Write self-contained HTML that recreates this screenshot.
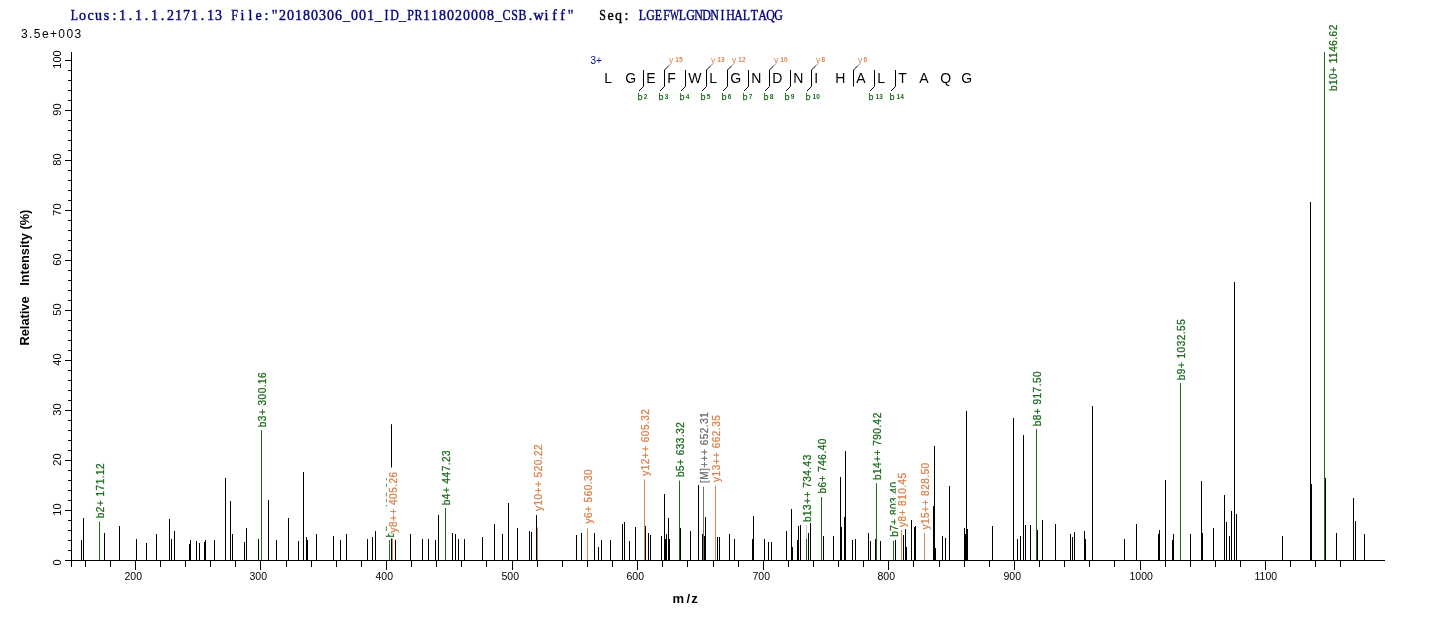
<!DOCTYPE html>
<html><head><meta charset="utf-8"><style>
html,body{margin:0;padding:0;background:#fff;overflow:hidden;}
svg{display:block;will-change:transform;}
text{font-family:"Liberation Sans",sans-serif;}
.mono{font-family:"Liberation Mono",monospace;}
.serif{font-family:"Liberation Serif",serif;}
</style></head><body>
<svg width="1436" height="620" viewBox="0 0 1436 620">
<rect width="1436" height="620" fill="#fff"/>
<rect x="81" y="540.0" width="1" height="20.0" fill="#000"/>
<rect x="83" y="518.0" width="1" height="42.0" fill="#000"/>
<rect x="104" y="533.0" width="1" height="27.0" fill="#000"/>
<rect x="119" y="526.0" width="1" height="34.0" fill="#000"/>
<rect x="136" y="539.0" width="1" height="21.0" fill="#000"/>
<rect x="146" y="543.0" width="1" height="17.0" fill="#000"/>
<rect x="156" y="534.0" width="1" height="26.0" fill="#000"/>
<rect x="169" y="519.0" width="1" height="41.0" fill="#000"/>
<rect x="171" y="539.0" width="1" height="21.0" fill="#000"/>
<rect x="174" y="531.0" width="1" height="29.0" fill="#000"/>
<rect x="189" y="544.0" width="1" height="16.0" fill="#000"/>
<rect x="190" y="540.0" width="1" height="20.0" fill="#000"/>
<rect x="196" y="541.0" width="1" height="19.0" fill="#000"/>
<rect x="199" y="543.0" width="1" height="17.0" fill="#000"/>
<rect x="204" y="542.0" width="1" height="18.0" fill="#000"/>
<rect x="205" y="540.0" width="1" height="20.0" fill="#000"/>
<rect x="214" y="540.0" width="1" height="20.0" fill="#000"/>
<rect x="225" y="478.0" width="1" height="82.0" fill="#000"/>
<rect x="230" y="501.0" width="1" height="59.0" fill="#000"/>
<rect x="232" y="534.0" width="1" height="26.0" fill="#000"/>
<rect x="244" y="542.0" width="1" height="18.0" fill="#000"/>
<rect x="246" y="528.0" width="1" height="32.0" fill="#000"/>
<rect x="258" y="539.0" width="1" height="21.0" fill="#000"/>
<rect x="268" y="500.0" width="1" height="60.0" fill="#000"/>
<rect x="276" y="540.0" width="1" height="20.0" fill="#000"/>
<rect x="288" y="518.0" width="1" height="42.0" fill="#000"/>
<rect x="298" y="541.0" width="1" height="19.0" fill="#000"/>
<rect x="303" y="472.0" width="1" height="88.0" fill="#000"/>
<rect x="306" y="537.0" width="1" height="23.0" fill="#000"/>
<rect x="307" y="540.0" width="1" height="20.0" fill="#000"/>
<rect x="316" y="534.0" width="1" height="26.0" fill="#000"/>
<rect x="333" y="536.0" width="1" height="24.0" fill="#000"/>
<rect x="340" y="540.0" width="1" height="20.0" fill="#000"/>
<rect x="346" y="534.0" width="1" height="26.0" fill="#000"/>
<rect x="367" y="539.0" width="1" height="21.0" fill="#000"/>
<rect x="372" y="537.0" width="1" height="23.0" fill="#000"/>
<rect x="375" y="531.0" width="1" height="29.0" fill="#000"/>
<rect x="391" y="424.2" width="1" height="135.8" fill="#000"/>
<rect x="395" y="540.0" width="1" height="20.0" fill="#000"/>
<rect x="410" y="534.0" width="1" height="26.0" fill="#000"/>
<rect x="422" y="539.0" width="1" height="21.0" fill="#000"/>
<rect x="428" y="539.0" width="1" height="21.0" fill="#000"/>
<rect x="435" y="540.0" width="1" height="20.0" fill="#000"/>
<rect x="438" y="515.0" width="1" height="45.0" fill="#000"/>
<rect x="452" y="533.0" width="1" height="27.0" fill="#000"/>
<rect x="455" y="534.0" width="1" height="26.0" fill="#000"/>
<rect x="458" y="539.0" width="1" height="21.0" fill="#000"/>
<rect x="464" y="539.0" width="1" height="21.0" fill="#000"/>
<rect x="482" y="537.0" width="1" height="23.0" fill="#000"/>
<rect x="494" y="524.0" width="1" height="36.0" fill="#000"/>
<rect x="502" y="534.0" width="1" height="26.0" fill="#000"/>
<rect x="508" y="503.0" width="1" height="57.0" fill="#000"/>
<rect x="517" y="528.0" width="1" height="32.0" fill="#000"/>
<rect x="529" y="531.0" width="1" height="29.0" fill="#000"/>
<rect x="531" y="532.0" width="1" height="28.0" fill="#000"/>
<rect x="536" y="515.0" width="1" height="45.0" fill="#000"/>
<rect x="576" y="535.0" width="1" height="25.0" fill="#000"/>
<rect x="581" y="533.0" width="1" height="27.0" fill="#000"/>
<rect x="594" y="533.0" width="1" height="27.0" fill="#000"/>
<rect x="598" y="547.0" width="1" height="13.0" fill="#000"/>
<rect x="601" y="540.0" width="1" height="20.0" fill="#000"/>
<rect x="610" y="540.0" width="1" height="20.0" fill="#000"/>
<rect x="622" y="524.0" width="1" height="36.0" fill="#000"/>
<rect x="624" y="522.0" width="1" height="38.0" fill="#000"/>
<rect x="629" y="541.0" width="1" height="19.0" fill="#000"/>
<rect x="635" y="527.0" width="1" height="33.0" fill="#000"/>
<rect x="645" y="526.0" width="1" height="34.0" fill="#000"/>
<rect x="648" y="533.0" width="1" height="27.0" fill="#000"/>
<rect x="650" y="535.0" width="1" height="25.0" fill="#000"/>
<rect x="661" y="536.0" width="1" height="24.0" fill="#000"/>
<rect x="664" y="494.0" width="1" height="66.0" fill="#000"/>
<rect x="665" y="539.0" width="1" height="21.0" fill="#000"/>
<rect x="666" y="534.0" width="1" height="26.0" fill="#000"/>
<rect x="668" y="518.0" width="1" height="42.0" fill="#000"/>
<rect x="669" y="539.0" width="1" height="21.0" fill="#000"/>
<rect x="680" y="528.0" width="1" height="32.0" fill="#000"/>
<rect x="690" y="531.0" width="1" height="29.0" fill="#000"/>
<rect x="698" y="485.0" width="1" height="75.0" fill="#000"/>
<rect x="702" y="534.0" width="1" height="26.0" fill="#000"/>
<rect x="704" y="536.0" width="1" height="24.0" fill="#000"/>
<rect x="705" y="517.0" width="1" height="43.0" fill="#000"/>
<rect x="717" y="537.0" width="1" height="23.0" fill="#000"/>
<rect x="719" y="537.0" width="1" height="23.0" fill="#000"/>
<rect x="729" y="534.0" width="1" height="26.0" fill="#000"/>
<rect x="734" y="539.0" width="1" height="21.0" fill="#000"/>
<rect x="752" y="539.0" width="1" height="21.0" fill="#000"/>
<rect x="753" y="516.0" width="1" height="44.0" fill="#000"/>
<rect x="764" y="539.0" width="1" height="21.0" fill="#000"/>
<rect x="768" y="542.0" width="1" height="18.0" fill="#000"/>
<rect x="771" y="542.0" width="1" height="18.0" fill="#000"/>
<rect x="786" y="531.0" width="1" height="29.0" fill="#000"/>
<rect x="791" y="509.0" width="1" height="51.0" fill="#000"/>
<rect x="792" y="547.0" width="1" height="13.0" fill="#000"/>
<rect x="797" y="540.0" width="1" height="20.0" fill="#000"/>
<rect x="798" y="526.0" width="1" height="34.0" fill="#000"/>
<rect x="800" y="525.0" width="1" height="35.0" fill="#000"/>
<rect x="808" y="533.0" width="1" height="27.0" fill="#000"/>
<rect x="810" y="523.0" width="1" height="37.0" fill="#000"/>
<rect x="823" y="536.0" width="1" height="24.0" fill="#000"/>
<rect x="833" y="536.0" width="1" height="24.0" fill="#000"/>
<rect x="840" y="477.0" width="1" height="83.0" fill="#000"/>
<rect x="841" y="527.0" width="1" height="33.0" fill="#000"/>
<rect x="844" y="517.0" width="1" height="43.0" fill="#000"/>
<rect x="845" y="451.0" width="1" height="109.0" fill="#000"/>
<rect x="852" y="540.0" width="1" height="20.0" fill="#000"/>
<rect x="855" y="539.0" width="1" height="21.0" fill="#000"/>
<rect x="868" y="533.0" width="1" height="27.0" fill="#000"/>
<rect x="870" y="541.0" width="1" height="19.0" fill="#000"/>
<rect x="875" y="539.0" width="1" height="21.0" fill="#000"/>
<rect x="880" y="541.0" width="1" height="19.0" fill="#000"/>
<rect x="895" y="540.0" width="1" height="20.0" fill="#000"/>
<rect x="903" y="535.0" width="1" height="25.0" fill="#000"/>
<rect x="905" y="529.0" width="1" height="31.0" fill="#000"/>
<rect x="906" y="547.0" width="1" height="13.0" fill="#000"/>
<rect x="911" y="520.0" width="1" height="40.0" fill="#000"/>
<rect x="914" y="527.0" width="1" height="33.0" fill="#000"/>
<rect x="915" y="526.0" width="1" height="34.0" fill="#000"/>
<rect x="933" y="506.0" width="1" height="54.0" fill="#000"/>
<rect x="934" y="446.0" width="1" height="114.0" fill="#000"/>
<rect x="935" y="548.0" width="1" height="12.0" fill="#000"/>
<rect x="942" y="536.0" width="1" height="24.0" fill="#000"/>
<rect x="945" y="538.0" width="1" height="22.0" fill="#000"/>
<rect x="949" y="486.0" width="1" height="74.0" fill="#000"/>
<rect x="964" y="528.0" width="1" height="32.0" fill="#000"/>
<rect x="965" y="534.0" width="1" height="26.0" fill="#000"/>
<rect x="966" y="411.0" width="1" height="149.0" fill="#000"/>
<rect x="967" y="529.0" width="1" height="31.0" fill="#000"/>
<rect x="992" y="526.0" width="1" height="34.0" fill="#000"/>
<rect x="1013" y="418.0" width="1" height="142.0" fill="#000"/>
<rect x="1017" y="539.0" width="1" height="21.0" fill="#000"/>
<rect x="1020" y="536.0" width="1" height="24.0" fill="#000"/>
<rect x="1023" y="435.0" width="1" height="125.0" fill="#000"/>
<rect x="1025" y="525.0" width="1" height="35.0" fill="#000"/>
<rect x="1030" y="525.0" width="1" height="35.0" fill="#000"/>
<rect x="1037" y="530.0" width="1" height="30.0" fill="#000"/>
<rect x="1042" y="520.0" width="1" height="40.0" fill="#000"/>
<rect x="1055" y="524.0" width="1" height="36.0" fill="#000"/>
<rect x="1070" y="534.0" width="1" height="26.0" fill="#000"/>
<rect x="1072" y="537.0" width="1" height="23.0" fill="#000"/>
<rect x="1074" y="532.0" width="1" height="28.0" fill="#000"/>
<rect x="1084" y="531.0" width="1" height="29.0" fill="#000"/>
<rect x="1085" y="539.0" width="1" height="21.0" fill="#000"/>
<rect x="1092" y="406.0" width="1" height="154.0" fill="#000"/>
<rect x="1124" y="539.0" width="1" height="21.0" fill="#000"/>
<rect x="1136" y="524.0" width="1" height="36.0" fill="#000"/>
<rect x="1158" y="534.0" width="1" height="26.0" fill="#000"/>
<rect x="1159" y="530.0" width="1" height="30.0" fill="#000"/>
<rect x="1165" y="480.0" width="1" height="80.0" fill="#000"/>
<rect x="1172" y="540.0" width="1" height="20.0" fill="#000"/>
<rect x="1173" y="534.0" width="1" height="26.0" fill="#000"/>
<rect x="1190" y="534.0" width="1" height="26.0" fill="#000"/>
<rect x="1201" y="481.0" width="1" height="79.0" fill="#000"/>
<rect x="1202" y="533.0" width="1" height="27.0" fill="#000"/>
<rect x="1213" y="528.0" width="1" height="32.0" fill="#000"/>
<rect x="1224" y="495.0" width="1" height="65.0" fill="#000"/>
<rect x="1226" y="522.0" width="1" height="38.0" fill="#000"/>
<rect x="1229" y="536.0" width="1" height="24.0" fill="#000"/>
<rect x="1231" y="511.0" width="1" height="49.0" fill="#000"/>
<rect x="1234" y="282.0" width="1" height="278.0" fill="#000"/>
<rect x="1236" y="514.0" width="1" height="46.0" fill="#000"/>
<rect x="1282" y="536.0" width="1" height="24.0" fill="#000"/>
<rect x="1310" y="202.0" width="1" height="358.0" fill="#000"/>
<rect x="1311" y="484.0" width="1" height="76.0" fill="#000"/>
<rect x="1325" y="478.0" width="1" height="82.0" fill="#000"/>
<rect x="1336" y="533.0" width="1" height="27.0" fill="#000"/>
<rect x="1353" y="498.0" width="1" height="62.0" fill="#000"/>
<rect x="1355" y="521.0" width="1" height="39.0" fill="#000"/>
<rect x="1364" y="534.0" width="1" height="26.0" fill="#000"/>
<rect x="99" y="521.5" width="1" height="38.5" fill="#1e6b1e"/>
<rect x="261" y="430.0" width="1" height="130.0" fill="#1e6b1e"/>
<rect x="389" y="540.0" width="1" height="20.0" fill="#1e6b1e"/>
<rect x="392" y="535.0" width="1" height="25.0" fill="#d8844f"/>
<rect x="445" y="508.1" width="1" height="51.9" fill="#1e6b1e"/>
<rect x="537" y="527.5" width="1" height="32.5" fill="#d8844f"/>
<rect x="587" y="528.4" width="1" height="31.6" fill="#d8844f"/>
<rect x="644" y="479.5" width="1" height="80.5" fill="#d8844f"/>
<rect x="679" y="480.6" width="1" height="79.4" fill="#1e6b1e"/>
<rect x="703" y="486.7" width="1" height="73.3" fill="#707070"/>
<rect x="715" y="485.5" width="1" height="74.5" fill="#d8844f"/>
<rect x="806" y="539.0" width="1" height="21.0" fill="#1e6b1e"/>
<rect x="821" y="497.0" width="1" height="63.0" fill="#1e6b1e"/>
<rect x="876" y="483.2" width="1" height="76.8" fill="#1e6b1e"/>
<rect x="893" y="540.8" width="1" height="19.2" fill="#1e6b1e"/>
<rect x="901" y="530.0" width="1" height="30.0" fill="#d8844f"/>
<rect x="924" y="533.0" width="1" height="27.0" fill="#d8844f"/>
<rect x="1036" y="429.0" width="1" height="131.0" fill="#1e6b1e"/>
<rect x="1180" y="383.0" width="1" height="177.0" fill="#1e6b1e"/>
<g transform="translate(103.7,518.2) rotate(-90)"><rect x="-1" y="-10" width="60" height="12" fill="#fff"/><text x="0" y="0" fill="#1e6b1e" font-size="10" letter-spacing="0.5" stroke="#1e6b1e" stroke-width="0.3">b2+ 171.12</text></g>
<g transform="translate(265.7,427.2) rotate(-90)"><rect x="-1" y="-10" width="60" height="12" fill="#fff"/><text x="0" y="0" fill="#1e6b1e" font-size="10" letter-spacing="0.5" stroke="#1e6b1e" stroke-width="0.3">b3+ 300.16</text></g>
<g transform="translate(393.7,537.5) rotate(-90)"><rect x="-1" y="-10" width="66" height="12" fill="#fff"/><text x="0" y="0" fill="#1e6b1e" font-size="10" letter-spacing="0.5" stroke="#1e6b1e" stroke-width="0.3">b7++ 403.31</text></g>
<g transform="translate(396.7,532.5) rotate(-90)"><rect x="-1" y="-10" width="66" height="12" fill="#fff"/><text x="0" y="0" fill="#d8844f" font-size="10" letter-spacing="0.5" stroke="#d8844f" stroke-width="0.3">y8++ 405.26</text></g>
<g transform="translate(449.7,505.2) rotate(-90)"><rect x="-1" y="-10" width="60" height="12" fill="#fff"/><text x="0" y="0" fill="#1e6b1e" font-size="10" letter-spacing="0.5" stroke="#1e6b1e" stroke-width="0.3">b4+ 447.23</text></g>
<g transform="translate(541.7,511.0) rotate(-90)"><rect x="-1" y="-10" width="72" height="12" fill="#fff"/><text x="0" y="0" fill="#d8844f" font-size="10" letter-spacing="0.5" stroke="#d8844f" stroke-width="0.3">y10++ 520.22</text></g>
<g transform="translate(591.7,523.6) rotate(-90)"><rect x="-1" y="-10" width="60" height="12" fill="#fff"/><text x="0" y="0" fill="#d8844f" font-size="10" letter-spacing="0.5" stroke="#d8844f" stroke-width="0.3">y6+ 560.30</text></g>
<g transform="translate(648.7,475.8) rotate(-90)"><rect x="-1" y="-10" width="72" height="12" fill="#fff"/><text x="0" y="0" fill="#d8844f" font-size="10" letter-spacing="0.5" stroke="#d8844f" stroke-width="0.3">y12++ 605.32</text></g>
<g transform="translate(683.7,477.0) rotate(-90)"><rect x="-1" y="-10" width="60" height="12" fill="#fff"/><text x="0" y="0" fill="#1e6b1e" font-size="10" letter-spacing="0.5" stroke="#1e6b1e" stroke-width="0.3">b5+ 633.32</text></g>
<g transform="translate(707.7,483.0) rotate(-90)"><rect x="-1" y="-10" width="78" height="12" fill="#fff"/><text x="0" y="0" fill="#707070" font-size="10" letter-spacing="0.5" stroke="#707070" stroke-width="0.3">[M]+++ 652.31</text></g>
<g transform="translate(719.7,481.9) rotate(-90)"><rect x="-1" y="-10" width="72" height="12" fill="#fff"/><text x="0" y="0" fill="#d8844f" font-size="10" letter-spacing="0.5" stroke="#d8844f" stroke-width="0.3">y13++ 662.35</text></g>
<g transform="translate(810.7,522.0) rotate(-90)"><rect x="-1" y="-10" width="72" height="12" fill="#fff"/><text x="0" y="0" fill="#1e6b1e" font-size="10" letter-spacing="0.5" stroke="#1e6b1e" stroke-width="0.3">b13++ 734.43</text></g>
<g transform="translate(825.7,493.5) rotate(-90)"><rect x="-1" y="-10" width="60" height="12" fill="#fff"/><text x="0" y="0" fill="#1e6b1e" font-size="10" letter-spacing="0.5" stroke="#1e6b1e" stroke-width="0.3">b6+ 746.40</text></g>
<g transform="translate(880.7,480.0) rotate(-90)"><rect x="-1" y="-10" width="72" height="12" fill="#fff"/><text x="0" y="0" fill="#1e6b1e" font-size="10" letter-spacing="0.5" stroke="#1e6b1e" stroke-width="0.3">b14++ 790.42</text></g>
<g transform="translate(897.7,536.8) rotate(-90)"><rect x="-1" y="-10" width="60" height="12" fill="#fff"/><text x="0" y="0" fill="#1e6b1e" font-size="10" letter-spacing="0.5" stroke="#1e6b1e" stroke-width="0.3">b7+ 803.40</text></g>
<g transform="translate(905.7,527.1) rotate(-90)"><rect x="-1" y="-10" width="60" height="12" fill="#fff"/><text x="0" y="0" fill="#d8844f" font-size="10" letter-spacing="0.5" stroke="#d8844f" stroke-width="0.3">y8+ 810.45</text></g>
<g transform="translate(928.7,529.5) rotate(-90)"><rect x="-1" y="-10" width="72" height="12" fill="#fff"/><text x="0" y="0" fill="#d8844f" font-size="10" letter-spacing="0.5" stroke="#d8844f" stroke-width="0.3">y15++ 828.50</text></g>
<g transform="translate(1040.7,426.3) rotate(-90)"><rect x="-1" y="-10" width="60" height="12" fill="#fff"/><text x="0" y="0" fill="#1e6b1e" font-size="10" letter-spacing="0.5" stroke="#1e6b1e" stroke-width="0.3">b8+ 917.50</text></g>
<g transform="translate(1184.7,380.2) rotate(-90)"><rect x="-1" y="-10" width="66" height="12" fill="#fff"/><text x="0" y="0" fill="#1e6b1e" font-size="10" letter-spacing="0.5" stroke="#1e6b1e" stroke-width="0.3">b9+ 1032.55</text></g>
<rect x="806" y="525" width="1" height="14" fill="#ccc"/>
<rect x="1324" y="52.0" width="1" height="508.0" fill="#1e6b1e"/>
<g transform="translate(1336.5,91) rotate(-90)"><text x="0" y="0" fill="#1e6b1e" font-size="10" letter-spacing="0.5" stroke="#1e6b1e" stroke-width="0.3">b10+ 1146.62</text></g>
<rect x="71" y="52" width="1" height="515" fill="#000"/>
<rect x="65" y="560" width="1320" height="1" fill="#000"/>
<rect x="65" y="560" width="6" height="1" fill="#000"/>
<rect x="68" y="550" width="3" height="1" fill="#000"/>
<rect x="68" y="540" width="3" height="1" fill="#000"/>
<rect x="68" y="530" width="3" height="1" fill="#000"/>
<rect x="68" y="520" width="3" height="1" fill="#000"/>
<rect x="65" y="510" width="6" height="1" fill="#000"/>
<rect x="68" y="500" width="3" height="1" fill="#000"/>
<rect x="68" y="490" width="3" height="1" fill="#000"/>
<rect x="68" y="480" width="3" height="1" fill="#000"/>
<rect x="68" y="470" width="3" height="1" fill="#000"/>
<rect x="65" y="460" width="6" height="1" fill="#000"/>
<rect x="68" y="450" width="3" height="1" fill="#000"/>
<rect x="68" y="440" width="3" height="1" fill="#000"/>
<rect x="68" y="430" width="3" height="1" fill="#000"/>
<rect x="68" y="420" width="3" height="1" fill="#000"/>
<rect x="65" y="410" width="6" height="1" fill="#000"/>
<rect x="68" y="400" width="3" height="1" fill="#000"/>
<rect x="68" y="390" width="3" height="1" fill="#000"/>
<rect x="68" y="380" width="3" height="1" fill="#000"/>
<rect x="68" y="370" width="3" height="1" fill="#000"/>
<rect x="65" y="360" width="6" height="1" fill="#000"/>
<rect x="68" y="350" width="3" height="1" fill="#000"/>
<rect x="68" y="340" width="3" height="1" fill="#000"/>
<rect x="68" y="330" width="3" height="1" fill="#000"/>
<rect x="68" y="320" width="3" height="1" fill="#000"/>
<rect x="65" y="310" width="6" height="1" fill="#000"/>
<rect x="68" y="300" width="3" height="1" fill="#000"/>
<rect x="68" y="290" width="3" height="1" fill="#000"/>
<rect x="68" y="280" width="3" height="1" fill="#000"/>
<rect x="68" y="270" width="3" height="1" fill="#000"/>
<rect x="65" y="260" width="6" height="1" fill="#000"/>
<rect x="68" y="250" width="3" height="1" fill="#000"/>
<rect x="68" y="240" width="3" height="1" fill="#000"/>
<rect x="68" y="230" width="3" height="1" fill="#000"/>
<rect x="68" y="220" width="3" height="1" fill="#000"/>
<rect x="65" y="210" width="6" height="1" fill="#000"/>
<rect x="68" y="200" width="3" height="1" fill="#000"/>
<rect x="68" y="190" width="3" height="1" fill="#000"/>
<rect x="68" y="180" width="3" height="1" fill="#000"/>
<rect x="68" y="170" width="3" height="1" fill="#000"/>
<rect x="65" y="160" width="6" height="1" fill="#000"/>
<rect x="68" y="150" width="3" height="1" fill="#000"/>
<rect x="68" y="140" width="3" height="1" fill="#000"/>
<rect x="68" y="130" width="3" height="1" fill="#000"/>
<rect x="68" y="120" width="3" height="1" fill="#000"/>
<rect x="65" y="110" width="6" height="1" fill="#000"/>
<rect x="68" y="100" width="3" height="1" fill="#000"/>
<rect x="68" y="90" width="3" height="1" fill="#000"/>
<rect x="68" y="80" width="3" height="1" fill="#000"/>
<rect x="68" y="70" width="3" height="1" fill="#000"/>
<rect x="65" y="60" width="6" height="1" fill="#000"/>
<g transform="translate(61,562.5) rotate(-90)"><text x="0" y="0" text-anchor="middle" font-size="11">0</text></g>
<g transform="translate(61,509.5) rotate(-90)"><text x="0" y="0" text-anchor="middle" font-size="11">10</text></g>
<g transform="translate(61,459.5) rotate(-90)"><text x="0" y="0" text-anchor="middle" font-size="11">20</text></g>
<g transform="translate(61,409.5) rotate(-90)"><text x="0" y="0" text-anchor="middle" font-size="11">30</text></g>
<g transform="translate(61,359.5) rotate(-90)"><text x="0" y="0" text-anchor="middle" font-size="11">40</text></g>
<g transform="translate(61,309.5) rotate(-90)"><text x="0" y="0" text-anchor="middle" font-size="11">50</text></g>
<g transform="translate(61,259.5) rotate(-90)"><text x="0" y="0" text-anchor="middle" font-size="11">60</text></g>
<g transform="translate(61,209.5) rotate(-90)"><text x="0" y="0" text-anchor="middle" font-size="11">70</text></g>
<g transform="translate(61,159.5) rotate(-90)"><text x="0" y="0" text-anchor="middle" font-size="11">80</text></g>
<g transform="translate(61,109.5) rotate(-90)"><text x="0" y="0" text-anchor="middle" font-size="11">90</text></g>
<g transform="translate(61,59.5) rotate(-90)"><text x="0" y="0" text-anchor="middle" font-size="11">100</text></g>
<rect x="85" y="560" width="1" height="7" fill="#000"/>
<rect x="110" y="560" width="1" height="7" fill="#000"/>
<rect x="135" y="560" width="1" height="10" fill="#000"/>
<text x="124.5" y="580" font-size="10.5">200</text>
<rect x="160" y="560" width="1" height="7" fill="#000"/>
<rect x="185" y="560" width="1" height="7" fill="#000"/>
<rect x="210" y="560" width="1" height="7" fill="#000"/>
<rect x="235" y="560" width="1" height="7" fill="#000"/>
<rect x="260" y="560" width="1" height="10" fill="#000"/>
<text x="249.5" y="580" font-size="10.5">300</text>
<rect x="286" y="560" width="1" height="7" fill="#000"/>
<rect x="311" y="560" width="1" height="7" fill="#000"/>
<rect x="336" y="560" width="1" height="7" fill="#000"/>
<rect x="361" y="560" width="1" height="7" fill="#000"/>
<rect x="386" y="560" width="1" height="10" fill="#000"/>
<text x="375.5" y="580" font-size="10.5">400</text>
<rect x="411" y="560" width="1" height="7" fill="#000"/>
<rect x="436" y="560" width="1" height="7" fill="#000"/>
<rect x="461" y="560" width="1" height="7" fill="#000"/>
<rect x="486" y="560" width="1" height="7" fill="#000"/>
<rect x="512" y="560" width="1" height="10" fill="#000"/>
<text x="501.5" y="580" font-size="10.5">500</text>
<rect x="537" y="560" width="1" height="7" fill="#000"/>
<rect x="562" y="560" width="1" height="7" fill="#000"/>
<rect x="587" y="560" width="1" height="7" fill="#000"/>
<rect x="612" y="560" width="1" height="7" fill="#000"/>
<rect x="637" y="560" width="1" height="10" fill="#000"/>
<text x="626.5" y="580" font-size="10.5">600</text>
<rect x="662" y="560" width="1" height="7" fill="#000"/>
<rect x="687" y="560" width="1" height="7" fill="#000"/>
<rect x="713" y="560" width="1" height="7" fill="#000"/>
<rect x="738" y="560" width="1" height="7" fill="#000"/>
<rect x="763" y="560" width="1" height="10" fill="#000"/>
<text x="752.5" y="580" font-size="10.5">700</text>
<rect x="788" y="560" width="1" height="7" fill="#000"/>
<rect x="813" y="560" width="1" height="7" fill="#000"/>
<rect x="838" y="560" width="1" height="7" fill="#000"/>
<rect x="863" y="560" width="1" height="7" fill="#000"/>
<rect x="888" y="560" width="1" height="10" fill="#000"/>
<text x="877.5" y="580" font-size="10.5">800</text>
<rect x="913" y="560" width="1" height="7" fill="#000"/>
<rect x="939" y="560" width="1" height="7" fill="#000"/>
<rect x="964" y="560" width="1" height="7" fill="#000"/>
<rect x="989" y="560" width="1" height="7" fill="#000"/>
<rect x="1014" y="560" width="1" height="10" fill="#000"/>
<text x="1003.5" y="580" font-size="10.5">900</text>
<rect x="1039" y="560" width="1" height="7" fill="#000"/>
<rect x="1064" y="560" width="1" height="7" fill="#000"/>
<rect x="1089" y="560" width="1" height="7" fill="#000"/>
<rect x="1114" y="560" width="1" height="7" fill="#000"/>
<rect x="1140" y="560" width="1" height="10" fill="#000"/>
<text x="1129.5" y="580" font-size="10.5">1000</text>
<rect x="1165" y="560" width="1" height="7" fill="#000"/>
<rect x="1190" y="560" width="1" height="7" fill="#000"/>
<rect x="1215" y="560" width="1" height="7" fill="#000"/>
<rect x="1240" y="560" width="1" height="7" fill="#000"/>
<rect x="1265" y="560" width="1" height="10" fill="#000"/>
<text x="1254.5" y="580" font-size="10.5">1100</text>
<rect x="1290" y="560" width="1" height="7" fill="#000"/>
<rect x="1315" y="560" width="1" height="7" fill="#000"/>
<rect x="1340" y="560" width="1" height="7" fill="#000"/>
<text x="672.5" y="603" font-size="13" font-weight="bold">m<tspan dx="2.5">/</tspan><tspan dx="1">z</tspan></text>
<g transform="translate(28.8,345.5) rotate(-90)"><text x="0" y="0" font-size="12.8" font-weight="bold">Relative&#160;&#160;&#160;Intensity (%)</text></g>
<text x="21" y="37.6" font-size="12" letter-spacing="1.4">3.5e+003</text>
<text x="0" y="0" text-anchor="middle" class="serif" font-size="14" fill="#000080" stroke="#000080" stroke-width="0.4" transform="translate(74.5,20) scale(0.85,1)">L</text><text x="82.5" y="20" text-anchor="middle" class="serif" font-size="14" fill="#000080" stroke="#000080" stroke-width="0.4">o</text><text x="90.5" y="20" text-anchor="middle" class="serif" font-size="14" fill="#000080" stroke="#000080" stroke-width="0.4">c</text><text x="98.5" y="20" text-anchor="middle" class="serif" font-size="14" fill="#000080" stroke="#000080" stroke-width="0.4">u</text><text x="106.5" y="20" text-anchor="middle" class="serif" font-size="14" fill="#000080" stroke="#000080" stroke-width="0.4">s</text><text x="114.5" y="20" text-anchor="middle" class="serif" font-size="14" fill="#000080" stroke="#000080" stroke-width="0.4">:</text><text x="122.5" y="20" text-anchor="middle" class="serif" font-size="14" fill="#000080" stroke="#000080" stroke-width="0.4">1</text><text x="130.5" y="20" text-anchor="middle" class="serif" font-size="14" fill="#000080" stroke="#000080" stroke-width="0.4">.</text><text x="138.5" y="20" text-anchor="middle" class="serif" font-size="14" fill="#000080" stroke="#000080" stroke-width="0.4">1</text><text x="146.5" y="20" text-anchor="middle" class="serif" font-size="14" fill="#000080" stroke="#000080" stroke-width="0.4">.</text><text x="154.5" y="20" text-anchor="middle" class="serif" font-size="14" fill="#000080" stroke="#000080" stroke-width="0.4">1</text><text x="162.5" y="20" text-anchor="middle" class="serif" font-size="14" fill="#000080" stroke="#000080" stroke-width="0.4">.</text><text x="170.5" y="20" text-anchor="middle" class="serif" font-size="14" fill="#000080" stroke="#000080" stroke-width="0.4">2</text><text x="178.5" y="20" text-anchor="middle" class="serif" font-size="14" fill="#000080" stroke="#000080" stroke-width="0.4">1</text><text x="186.5" y="20" text-anchor="middle" class="serif" font-size="14" fill="#000080" stroke="#000080" stroke-width="0.4">7</text><text x="194.5" y="20" text-anchor="middle" class="serif" font-size="14" fill="#000080" stroke="#000080" stroke-width="0.4">1</text><text x="202.5" y="20" text-anchor="middle" class="serif" font-size="14" fill="#000080" stroke="#000080" stroke-width="0.4">.</text><text x="210.5" y="20" text-anchor="middle" class="serif" font-size="14" fill="#000080" stroke="#000080" stroke-width="0.4">1</text><text x="218.5" y="20" text-anchor="middle" class="serif" font-size="14" fill="#000080" stroke="#000080" stroke-width="0.4">3</text><text x="0" y="0" text-anchor="middle" class="serif" font-size="14" fill="#000080" stroke="#000080" stroke-width="0.4" transform="translate(234.5,20) scale(0.85,1)">F</text><text x="242.5" y="20" text-anchor="middle" class="serif" font-size="14" fill="#000080" stroke="#000080" stroke-width="0.4">i</text><text x="250.5" y="20" text-anchor="middle" class="serif" font-size="14" fill="#000080" stroke="#000080" stroke-width="0.4">l</text><text x="258.5" y="20" text-anchor="middle" class="serif" font-size="14" fill="#000080" stroke="#000080" stroke-width="0.4">e</text><text x="266.5" y="20" text-anchor="middle" class="serif" font-size="14" fill="#000080" stroke="#000080" stroke-width="0.4">:</text><text x="274.5" y="20" text-anchor="middle" class="serif" font-size="14" fill="#000080" stroke="#000080" stroke-width="0.4">&quot;</text><text x="282.5" y="20" text-anchor="middle" class="serif" font-size="14" fill="#000080" stroke="#000080" stroke-width="0.4">2</text><text x="290.5" y="20" text-anchor="middle" class="serif" font-size="14" fill="#000080" stroke="#000080" stroke-width="0.4">0</text><text x="298.5" y="20" text-anchor="middle" class="serif" font-size="14" fill="#000080" stroke="#000080" stroke-width="0.4">1</text><text x="306.5" y="20" text-anchor="middle" class="serif" font-size="14" fill="#000080" stroke="#000080" stroke-width="0.4">8</text><text x="314.5" y="20" text-anchor="middle" class="serif" font-size="14" fill="#000080" stroke="#000080" stroke-width="0.4">0</text><text x="322.5" y="20" text-anchor="middle" class="serif" font-size="14" fill="#000080" stroke="#000080" stroke-width="0.4">3</text><text x="330.5" y="20" text-anchor="middle" class="serif" font-size="14" fill="#000080" stroke="#000080" stroke-width="0.4">0</text><text x="338.5" y="20" text-anchor="middle" class="serif" font-size="14" fill="#000080" stroke="#000080" stroke-width="0.4">6</text><text x="346.5" y="20" text-anchor="middle" class="serif" font-size="14" fill="#000080" stroke="#000080" stroke-width="0.4">_</text><text x="354.5" y="20" text-anchor="middle" class="serif" font-size="14" fill="#000080" stroke="#000080" stroke-width="0.4">0</text><text x="362.5" y="20" text-anchor="middle" class="serif" font-size="14" fill="#000080" stroke="#000080" stroke-width="0.4">0</text><text x="370.5" y="20" text-anchor="middle" class="serif" font-size="14" fill="#000080" stroke="#000080" stroke-width="0.4">1</text><text x="378.5" y="20" text-anchor="middle" class="serif" font-size="14" fill="#000080" stroke="#000080" stroke-width="0.4">_</text><text x="0" y="0" text-anchor="middle" class="serif" font-size="14" fill="#000080" stroke="#000080" stroke-width="0.4" transform="translate(386.5,20) scale(0.85,1)">I</text><text x="0" y="0" text-anchor="middle" class="serif" font-size="14" fill="#000080" stroke="#000080" stroke-width="0.4" transform="translate(394.5,20) scale(0.85,1)">D</text><text x="402.5" y="20" text-anchor="middle" class="serif" font-size="14" fill="#000080" stroke="#000080" stroke-width="0.4">_</text><text x="0" y="0" text-anchor="middle" class="serif" font-size="14" fill="#000080" stroke="#000080" stroke-width="0.4" transform="translate(410.5,20) scale(0.85,1)">P</text><text x="0" y="0" text-anchor="middle" class="serif" font-size="14" fill="#000080" stroke="#000080" stroke-width="0.4" transform="translate(418.5,20) scale(0.85,1)">R</text><text x="426.5" y="20" text-anchor="middle" class="serif" font-size="14" fill="#000080" stroke="#000080" stroke-width="0.4">1</text><text x="434.5" y="20" text-anchor="middle" class="serif" font-size="14" fill="#000080" stroke="#000080" stroke-width="0.4">1</text><text x="442.5" y="20" text-anchor="middle" class="serif" font-size="14" fill="#000080" stroke="#000080" stroke-width="0.4">8</text><text x="450.5" y="20" text-anchor="middle" class="serif" font-size="14" fill="#000080" stroke="#000080" stroke-width="0.4">0</text><text x="458.5" y="20" text-anchor="middle" class="serif" font-size="14" fill="#000080" stroke="#000080" stroke-width="0.4">2</text><text x="466.5" y="20" text-anchor="middle" class="serif" font-size="14" fill="#000080" stroke="#000080" stroke-width="0.4">0</text><text x="474.5" y="20" text-anchor="middle" class="serif" font-size="14" fill="#000080" stroke="#000080" stroke-width="0.4">0</text><text x="482.5" y="20" text-anchor="middle" class="serif" font-size="14" fill="#000080" stroke="#000080" stroke-width="0.4">0</text><text x="490.5" y="20" text-anchor="middle" class="serif" font-size="14" fill="#000080" stroke="#000080" stroke-width="0.4">8</text><text x="498.5" y="20" text-anchor="middle" class="serif" font-size="14" fill="#000080" stroke="#000080" stroke-width="0.4">_</text><text x="0" y="0" text-anchor="middle" class="serif" font-size="14" fill="#000080" stroke="#000080" stroke-width="0.4" transform="translate(506.5,20) scale(0.85,1)">C</text><text x="0" y="0" text-anchor="middle" class="serif" font-size="14" fill="#000080" stroke="#000080" stroke-width="0.4" transform="translate(514.5,20) scale(0.85,1)">S</text><text x="0" y="0" text-anchor="middle" class="serif" font-size="14" fill="#000080" stroke="#000080" stroke-width="0.4" transform="translate(522.5,20) scale(0.85,1)">B</text><text x="530.5" y="20" text-anchor="middle" class="serif" font-size="14" fill="#000080" stroke="#000080" stroke-width="0.4">.</text><text x="538.5" y="20" text-anchor="middle" class="serif" font-size="14" fill="#000080" stroke="#000080" stroke-width="0.4">w</text><text x="546.5" y="20" text-anchor="middle" class="serif" font-size="14" fill="#000080" stroke="#000080" stroke-width="0.4">i</text><text x="554.5" y="20" text-anchor="middle" class="serif" font-size="14" fill="#000080" stroke="#000080" stroke-width="0.4">f</text><text x="562.5" y="20" text-anchor="middle" class="serif" font-size="14" fill="#000080" stroke="#000080" stroke-width="0.4">f</text><text x="570.5" y="20" text-anchor="middle" class="serif" font-size="14" fill="#000080" stroke="#000080" stroke-width="0.4">&quot;</text><text x="0" y="0" text-anchor="middle" class="serif" font-size="14" fill="#000" stroke="#000" stroke-width="0.4" transform="translate(602.5,20) scale(0.85,1)">S</text><text x="610.5" y="20" text-anchor="middle" class="serif" font-size="14" fill="#000" stroke="#000" stroke-width="0.4">e</text><text x="618.5" y="20" text-anchor="middle" class="serif" font-size="14" fill="#000" stroke="#000" stroke-width="0.4">q</text><text x="626.5" y="20" text-anchor="middle" class="serif" font-size="14" fill="#000" stroke="#000" stroke-width="0.4">:</text><text x="0" y="0" text-anchor="middle" class="serif" font-size="14" fill="#000080" stroke="#000080" stroke-width="0.4" transform="translate(642.5,20) scale(0.85,1)">L</text><text x="0" y="0" text-anchor="middle" class="serif" font-size="14" fill="#000080" stroke="#000080" stroke-width="0.4" transform="translate(650.5,20) scale(0.85,1)">G</text><text x="0" y="0" text-anchor="middle" class="serif" font-size="14" fill="#000080" stroke="#000080" stroke-width="0.4" transform="translate(658.5,20) scale(0.85,1)">E</text><text x="0" y="0" text-anchor="middle" class="serif" font-size="14" fill="#000080" stroke="#000080" stroke-width="0.4" transform="translate(666.5,20) scale(0.85,1)">F</text><text x="0" y="0" text-anchor="middle" class="serif" font-size="14" fill="#000080" stroke="#000080" stroke-width="0.4" transform="translate(674.5,20) scale(0.68,1)">W</text><text x="0" y="0" text-anchor="middle" class="serif" font-size="14" fill="#000080" stroke="#000080" stroke-width="0.4" transform="translate(682.5,20) scale(0.85,1)">L</text><text x="0" y="0" text-anchor="middle" class="serif" font-size="14" fill="#000080" stroke="#000080" stroke-width="0.4" transform="translate(690.5,20) scale(0.85,1)">G</text><text x="0" y="0" text-anchor="middle" class="serif" font-size="14" fill="#000080" stroke="#000080" stroke-width="0.4" transform="translate(698.5,20) scale(0.85,1)">N</text><text x="0" y="0" text-anchor="middle" class="serif" font-size="14" fill="#000080" stroke="#000080" stroke-width="0.4" transform="translate(706.5,20) scale(0.85,1)">D</text><text x="0" y="0" text-anchor="middle" class="serif" font-size="14" fill="#000080" stroke="#000080" stroke-width="0.4" transform="translate(714.5,20) scale(0.85,1)">N</text><text x="0" y="0" text-anchor="middle" class="serif" font-size="14" fill="#000080" stroke="#000080" stroke-width="0.4" transform="translate(722.5,20) scale(0.85,1)">I</text><text x="0" y="0" text-anchor="middle" class="serif" font-size="14" fill="#000080" stroke="#000080" stroke-width="0.4" transform="translate(730.5,20) scale(0.85,1)">H</text><text x="0" y="0" text-anchor="middle" class="serif" font-size="14" fill="#000080" stroke="#000080" stroke-width="0.4" transform="translate(738.5,20) scale(0.85,1)">A</text><text x="0" y="0" text-anchor="middle" class="serif" font-size="14" fill="#000080" stroke="#000080" stroke-width="0.4" transform="translate(746.5,20) scale(0.85,1)">L</text><text x="0" y="0" text-anchor="middle" class="serif" font-size="14" fill="#000080" stroke="#000080" stroke-width="0.4" transform="translate(754.5,20) scale(0.85,1)">T</text><text x="0" y="0" text-anchor="middle" class="serif" font-size="14" fill="#000080" stroke="#000080" stroke-width="0.4" transform="translate(762.5,20) scale(0.85,1)">A</text><text x="0" y="0" text-anchor="middle" class="serif" font-size="14" fill="#000080" stroke="#000080" stroke-width="0.4" transform="translate(770.5,20) scale(0.85,1)">Q</text><text x="0" y="0" text-anchor="middle" class="serif" font-size="14" fill="#000080" stroke="#000080" stroke-width="0.4" transform="translate(778.5,20) scale(0.85,1)">G</text>
<text x="604.3" y="82.9" font-size="14">L</text>
<text x="625.3" y="82.9" font-size="14">G</text>
<text x="646.3" y="82.9" font-size="14">E</text>
<text x="667.3" y="82.9" font-size="14">F</text>
<text x="688.3" y="82.9" font-size="14">W</text>
<text x="709.3" y="82.9" font-size="14">L</text>
<text x="730.3" y="82.9" font-size="14">G</text>
<text x="751.3" y="82.9" font-size="14">N</text>
<text x="772.3" y="82.9" font-size="14">D</text>
<text x="793.3" y="82.9" font-size="14">N</text>
<text x="814.3" y="82.9" font-size="14">I</text>
<text x="835.3" y="82.9" font-size="14">H</text>
<text x="856.3" y="82.9" font-size="14">A</text>
<text x="877.3" y="82.9" font-size="14">L</text>
<text x="898.3" y="82.9" font-size="14">T</text>
<text x="919.3" y="82.9" font-size="14">A</text>
<text x="940.3" y="82.9" font-size="14">Q</text>
<text x="961.3" y="82.9" font-size="14">G</text>
<text x="590.5" y="63.9" font-size="10" fill="#000080">3+</text>
<line x1="643.5" y1="70" x2="643.5" y2="86.5" stroke="#000" stroke-width="1"/>
<line x1="643.5" y1="86.5" x2="639.0" y2="91" stroke="#000" stroke-width="1"/>
<text x="637.5" y="99.5" font-size="9" fill="#1e6b1e" stroke="#1e6b1e" stroke-width="0.25">b<tspan font-size="6.5" font-weight="bold" dx="1.2" dy="-0.6" stroke-width="0">2</tspan></text>
<line x1="664.5" y1="70" x2="664.5" y2="86.5" stroke="#000" stroke-width="1"/>
<line x1="664.5" y1="86.5" x2="660.0" y2="91" stroke="#000" stroke-width="1"/>
<text x="658.5" y="99.5" font-size="9" fill="#1e6b1e" stroke="#1e6b1e" stroke-width="0.25">b<tspan font-size="6.5" font-weight="bold" dx="1.2" dy="-0.6" stroke-width="0">3</tspan></text>
<line x1="664.5" y1="70" x2="669.0" y2="65.5" stroke="#000" stroke-width="1"/>
<text x="669.1" y="62.5" font-size="8.5" fill="#d8844f">y<tspan font-size="6.5" font-weight="bold" dx="2" dy="-0.8">15</tspan></text>
<line x1="685.5" y1="70" x2="685.5" y2="86.5" stroke="#000" stroke-width="1"/>
<line x1="685.5" y1="86.5" x2="681.0" y2="91" stroke="#000" stroke-width="1"/>
<text x="679.5" y="99.5" font-size="9" fill="#1e6b1e" stroke="#1e6b1e" stroke-width="0.25">b<tspan font-size="6.5" font-weight="bold" dx="1.2" dy="-0.6" stroke-width="0">4</tspan></text>
<line x1="706.5" y1="70" x2="706.5" y2="86.5" stroke="#000" stroke-width="1"/>
<line x1="706.5" y1="86.5" x2="702.0" y2="91" stroke="#000" stroke-width="1"/>
<text x="700.5" y="99.5" font-size="9" fill="#1e6b1e" stroke="#1e6b1e" stroke-width="0.25">b<tspan font-size="6.5" font-weight="bold" dx="1.2" dy="-0.6" stroke-width="0">5</tspan></text>
<line x1="706.5" y1="70" x2="711.0" y2="65.5" stroke="#000" stroke-width="1"/>
<text x="711.1" y="62.5" font-size="8.5" fill="#d8844f">y<tspan font-size="6.5" font-weight="bold" dx="2" dy="-0.8">13</tspan></text>
<line x1="727.5" y1="70" x2="727.5" y2="86.5" stroke="#000" stroke-width="1"/>
<line x1="727.5" y1="86.5" x2="723.0" y2="91" stroke="#000" stroke-width="1"/>
<text x="721.5" y="99.5" font-size="9" fill="#1e6b1e" stroke="#1e6b1e" stroke-width="0.25">b<tspan font-size="6.5" font-weight="bold" dx="1.2" dy="-0.6" stroke-width="0">6</tspan></text>
<line x1="727.5" y1="70" x2="732.0" y2="65.5" stroke="#000" stroke-width="1"/>
<text x="732.1" y="62.5" font-size="8.5" fill="#d8844f">y<tspan font-size="6.5" font-weight="bold" dx="2" dy="-0.8">12</tspan></text>
<line x1="748.5" y1="70" x2="748.5" y2="86.5" stroke="#000" stroke-width="1"/>
<line x1="748.5" y1="86.5" x2="744.0" y2="91" stroke="#000" stroke-width="1"/>
<text x="742.5" y="99.5" font-size="9" fill="#1e6b1e" stroke="#1e6b1e" stroke-width="0.25">b<tspan font-size="6.5" font-weight="bold" dx="1.2" dy="-0.6" stroke-width="0">7</tspan></text>
<line x1="769.5" y1="70" x2="769.5" y2="86.5" stroke="#000" stroke-width="1"/>
<line x1="769.5" y1="86.5" x2="765.0" y2="91" stroke="#000" stroke-width="1"/>
<text x="763.5" y="99.5" font-size="9" fill="#1e6b1e" stroke="#1e6b1e" stroke-width="0.25">b<tspan font-size="6.5" font-weight="bold" dx="1.2" dy="-0.6" stroke-width="0">8</tspan></text>
<line x1="769.5" y1="70" x2="774.0" y2="65.5" stroke="#000" stroke-width="1"/>
<text x="774.1" y="62.5" font-size="8.5" fill="#d8844f">y<tspan font-size="6.5" font-weight="bold" dx="2" dy="-0.8">10</tspan></text>
<line x1="790.5" y1="70" x2="790.5" y2="86.5" stroke="#000" stroke-width="1"/>
<line x1="790.5" y1="86.5" x2="786.0" y2="91" stroke="#000" stroke-width="1"/>
<text x="784.5" y="99.5" font-size="9" fill="#1e6b1e" stroke="#1e6b1e" stroke-width="0.25">b<tspan font-size="6.5" font-weight="bold" dx="1.2" dy="-0.6" stroke-width="0">9</tspan></text>
<line x1="811.5" y1="70" x2="811.5" y2="86.5" stroke="#000" stroke-width="1"/>
<line x1="811.5" y1="86.5" x2="807.0" y2="91" stroke="#000" stroke-width="1"/>
<text x="805.5" y="99.5" font-size="9" fill="#1e6b1e" stroke="#1e6b1e" stroke-width="0.25">b<tspan font-size="6.5" font-weight="bold" dx="2" dy="-0.6" stroke-width="0">10</tspan></text>
<line x1="811.5" y1="70" x2="816.0" y2="65.5" stroke="#000" stroke-width="1"/>
<text x="816.1" y="62.5" font-size="8.5" fill="#d8844f">y<tspan font-size="6.5" font-weight="bold" dx="1.2" dy="-0.8">8</tspan></text>
<line x1="853.5" y1="70" x2="853.5" y2="86.5" stroke="#000" stroke-width="1"/>
<line x1="853.5" y1="70" x2="858.0" y2="65.5" stroke="#000" stroke-width="1"/>
<text x="858.1" y="62.5" font-size="8.5" fill="#d8844f">y<tspan font-size="6.5" font-weight="bold" dx="1.2" dy="-0.8">6</tspan></text>
<line x1="874.5" y1="70" x2="874.5" y2="86.5" stroke="#000" stroke-width="1"/>
<line x1="874.5" y1="86.5" x2="870.0" y2="91" stroke="#000" stroke-width="1"/>
<text x="868.5" y="99.5" font-size="9" fill="#1e6b1e" stroke="#1e6b1e" stroke-width="0.25">b<tspan font-size="6.5" font-weight="bold" dx="2" dy="-0.6" stroke-width="0">13</tspan></text>
<line x1="895.5" y1="70" x2="895.5" y2="86.5" stroke="#000" stroke-width="1"/>
<line x1="895.5" y1="86.5" x2="891.0" y2="91" stroke="#000" stroke-width="1"/>
<text x="889.5" y="99.5" font-size="9" fill="#1e6b1e" stroke="#1e6b1e" stroke-width="0.25">b<tspan font-size="6.5" font-weight="bold" dx="2" dy="-0.6" stroke-width="0">14</tspan></text>
</svg></body></html>
